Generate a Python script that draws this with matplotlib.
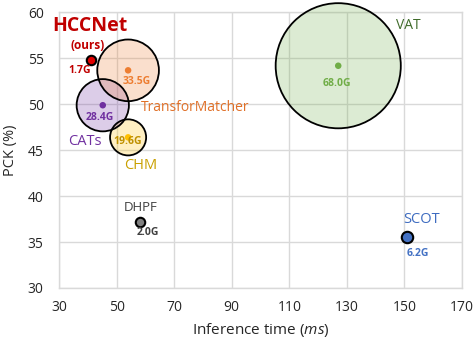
import matplotlib
matplotlib.use("Agg")
import matplotlib.pyplot as plt
import numpy as np

plt.rcParams['font.family'] = ['Open Sans', 'DejaVu Sans']
plt.rcParams['mathtext.fontset'] = 'custom'
plt.rcParams['mathtext.rm'] = 'Open Sans'
plt.rcParams['mathtext.it'] = 'Open Sans:italic'

# Models: inference time (ms), PCK (%), FLOPs (G)
models = ["HCCNet", "TransforMatcher", "CATs", "CHM", "DHPF", "VAT", "SCOT"]
time_ms = [41.0, 54.0, 45.2, 54.0, 58.2, 127.0, 151.0]
pck = [54.8, 53.7, 49.9, 46.4, 37.2, 54.2, 35.5]
flops = [1.7, 33.5, 28.4, 19.6, 2.0, 68.0, 6.2]
flops_labels = ["1.7G", "33.5G", "28.4G", "19.6G", "2.0G", "68.0G", "6.2G"]

colors = {
    "HCCNet": "#E00000",
    "TransforMatcher": "#ED7D31",
    "CATs": "#7030A0",
    "CHM": "#FFC000",
    "DHPF": "#808080",
    "VAT": "#70AD47",
    "SCOT": "#4472C4",
}
name_colors = {
    "HCCNet": "#C00000",
    "TransforMatcher": "#E07028",
    "CATs": "#7030A0",
    "CHM": "#C9A000",
    "DHPF": "#404040",
    "VAT": "#3F6B2A",
    "SCOT": "#3D6BC0",
}
flops_colors = {
    "HCCNet": "#C00000",
    "TransforMatcher": "#ED7D31",
    "CATs": "#7030A0",
    "CHM": "#BF9000",
    "DHPF": "#404040",
    "VAT": "#70AD47",
    "SCOT": "#4472C4",
}

x_ticks = [30, 50, 70, 90, 110, 130, 150, 170]
y_ticks = [30, 35, 40, 45, 50, 55, 60]

fig = plt.figure(figsize=(4.74, 3.42), dpi=100)
ax = fig.add_axes([0.1245, 0.158, 0.8502, 0.8055])
ax.set_xlim(30, 170)
ax.set_ylim(30, 60)
ax.set_xticks(x_ticks)
ax.set_yticks(y_ticks)
ax.grid(True, color="#D9D9D9", lw=1.0, zorder=0)
ax.set_axisbelow(True)
for s in ax.spines.values():
    s.set_color("#D9D9D9")
    s.set_linewidth(1.0)
ax.tick_params(length=0, labelsize=10, colors="#262626")
ax.tick_params(axis="x", pad=9)
ax.tick_params(axis="y", pad=11)

# Bubble diameter (points) proportional to FLOPs, with a floor for tiny models
k = 1.325
min_d = 6.8
big = {"TransforMatcher", "CATs", "CHM", "VAT"}
order = ["VAT", "CHM", "CATs", "TransforMatcher", "DHPF", "SCOT", "HCCNet"]
for name in order:
    i = models.index(name)
    d = max(k * flops[i], min_d)
    c = colors[name]
    if name in big:
        ax.scatter(time_ms[i], pck[i], s=d ** 2, facecolor=c, alpha=0.24,
                   edgecolor="none", zorder=3, clip_on=False)
        ax.scatter(time_ms[i], pck[i], s=d ** 2, facecolor="none",
                   edgecolor="black", linewidth=1.3, zorder=4, clip_on=False)
        ax.scatter(time_ms[i], pck[i], s=22, facecolor=c, edgecolor="none",
                   zorder=5)
    else:
        ax.scatter(time_ms[i], pck[i], s=d ** 2, facecolor=c,
                   edgecolor="black", linewidth=1.5, zorder=5)

# Model names
ax.text(40.8, 58.5, "HCCNet", color=name_colors["HCCNet"], fontsize=14,
        fontweight="bold", ha="center", va="center", zorder=6)
ax.text(40.0, 56.35, "(ours)", color=name_colors["HCCNet"], fontsize=8.5,
        fontweight="bold", ha="center", va="center", zorder=6)
ax.text(58.5, 49.7, "TransforMatcher", color=name_colors["TransforMatcher"],
        fontsize=10, ha="left", va="center", zorder=6)
ax.text(39.0, 46.0, "CATs", color=name_colors["CATs"], fontsize=10.5,
        ha="center", va="center", zorder=6)
ax.text(58.2, 43.3, "CHM", color=name_colors["CHM"], fontsize=10.5,
        ha="center", va="center", zorder=6)
ax.text(58.2, 38.8, "DHPF", color=name_colors["DHPF"], fontsize=9.5,
        ha="center", va="center", zorder=6)
ax.text(151.4, 58.6, "VAT", color=name_colors["VAT"], fontsize=10,
        ha="center", va="center", zorder=6)
ax.text(155.9, 37.5, "SCOT", color=name_colors["SCOT"], fontsize=10.5,
        ha="center", va="center", zorder=6)

# FLOPs annotations
flop_pos = {
    "HCCNet": (37.3, 53.7),
    "TransforMatcher": (57.1, 52.5),
    "CATs": (44.3, 48.6),
    "CHM": (54.0, 45.9),
    "DHPF": (61.0, 36.0),
    "VAT": (126.7, 52.3),
    "SCOT": (154.5, 33.7),
}
for name, (fx, fy) in flop_pos.items():
    i = models.index(name)
    ax.text(fx, fy, flops_labels[i], color=flops_colors[name], fontsize=7.5,
            fontweight="bold", ha="center", va="center", zorder=6)

ax.set_xlabel("Inference time ($\\it{ms}$)", fontsize=11, color="#262626",
              labelpad=4)
ax.set_ylabel("PCK (%)", fontsize=10.5, color="#262626", labelpad=7)

fig.savefig("out.png", dpi=100)
